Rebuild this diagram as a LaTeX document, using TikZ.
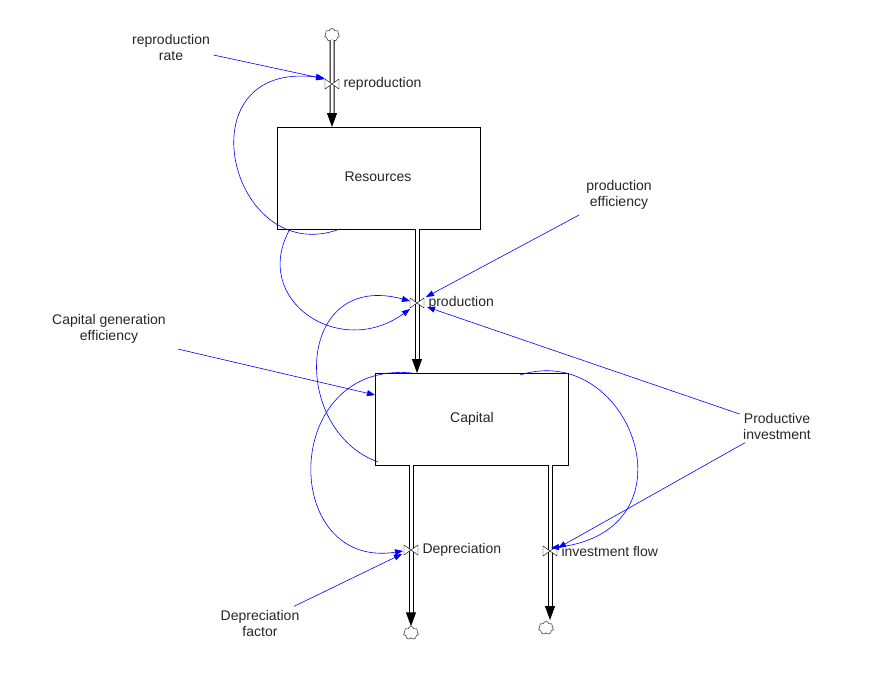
\documentclass[tikz,border=0pt]{standalone}
\usepackage{fontspec}
\setmainfont{Liberation Sans}
\usetikzlibrary{shapes.symbols,arrows.meta}
\begin{document}
\begin{tikzpicture}[x=1pt,y=-1pt,
  lab/.style={font=\fontsize{14}{16}\selectfont,align=center,text=black!85},
  stock/.style={draw,minimum width=#1,inner sep=0},
  flow/.style={double,double distance=3pt,line width=1pt,-{Triangle[length=14pt,width=10pt]}},
  link/.style={blue,line width=0.6pt,-{Triangle[length=8pt,width=6pt]}},
  cl/.style={cloud,draw,cloud puffs=7,minimum width=15pt,minimum height=13pt,inner sep=0,fill=white},
  valve/.style={inner sep=0,minimum size=8pt}]
\useasboundingbox (0,0) rectangle (870,678);
\node[stock=203pt,minimum height=102pt] (res) at (378.5,178) {}; \node[lab] at (378,177) {Resources};
\node[stock=193pt,minimum height=92pt] (cap) at (471.5,419) {}; \node[lab] at (472,419) {Capital};
\node[cl] (c1) at (332,35) {};
\node[cl] (c2) at (411,633) {};
\node[cl] (c3) at (546,628) {};
\draw[flow] (c1) -- (332,127);
\draw[flow] (417,229) -- (417,373);
\draw[flow] (411,465) -- (c2.north);
\draw[flow] (550,465) -- (550,620);
\foreach \n/\x/\y in {v1/332/84,v2/417/303,v3/411/550,v4/550/551}{
  \node[valve] (\n) at (\x,\y) {};
  \draw[fill=white] (\x-7,\y-5) -- (\x+7,\y+5) -- (\x+7,\y-5) -- (\x-7,\y+5) -- cycle;}
\node[lab,anchor=west] (l1) at (340,84) {reproduction};
\node[lab,anchor=west] (l2) at (425,303) {production};
\node[lab,anchor=west] (l3) at (419,550) {Depreciation};
\node[lab,anchor=west] (l4) at (558,551) {investment flow};
\node[lab] (rr) at (171,47) {reproduction\\rate};
\node[lab] (pe) at (619,195) {production\\efficiency};
\node[lab] (cg) at (109,329) {Capital generation\\efficiency};
\node[lab] (pi) at (777,426) {Productive\\investment};
\node[lab] (df) at (260,623) {Depreciation\\factor};
\draw[link] (rr.east) ++(0,8) -- (325,79);
\draw[link] (pe.south) ++(-40,2) -- (426,297);
\draw[link] (cg.south) ++(69,2) -- (375,395);
\draw[link] (pi.west) ++(0,-12) -- (427,307);
\draw[link] (pi.south) ++(-32,0) -- (558,548);
\draw[link] (df.north) ++(34,0) -- (402,554);
\draw[link] (340,229) .. controls (230,270) and (180,60) .. (324,78);
\draw[link] (290,229) .. controls (250,300) and (340,360) .. (410,309);
\draw[link] (378,462) .. controls (290,430) and (295,270) .. (410,301);
\draw[link] (412,373) .. controls (280,360) and (280,570) .. (403,551);
\draw[link] (520,375) .. controls (630,340) and (700,530) .. (551,548);
\end{tikzpicture}
\end{document}
